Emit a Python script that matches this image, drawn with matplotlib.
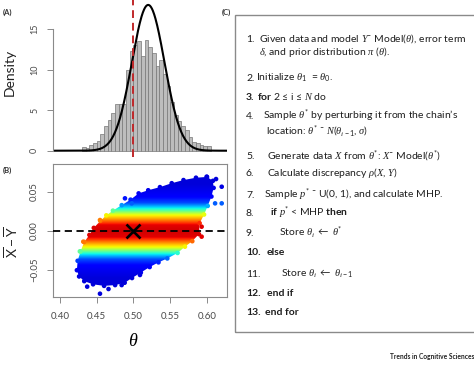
import numpy as np
import matplotlib
matplotlib.use("Agg")
import matplotlib.pyplot as plt
from matplotlib.patches import Rectangle

plt.rcParams['font.family'] = ['Lato', 'DejaVu Sans']
plt.rcParams['mathtext.fontset'] = 'custom'
plt.rcParams['mathtext.rm'] = 'Lato'
plt.rcParams['mathtext.sf'] = 'Lato'
plt.rcParams['mathtext.it'] = 'Liberation Serif:italic'
plt.rcParams['mathtext.bf'] = 'Lato:bold'
plt.rcParams['mathtext.fallback'] = 'stix'

W, H = 474, 366

# ---- panel A: posterior histogram (density per bin of width 0.005, from 0.430)
hist_start = 0.430
hist_width = 0.005
hist_density = [0.5, 0.33, 0.66, 0.9, 1.2, 2.0, 3.0, 3.8, 4.6, 5.7, 5.8, 5.8,
                9.9, 12.3, 13.0, 13.5, 11.7, 13.7, 12.8, 12.0, 10.4, 11.2, 9.5,
                8.0, 6.0, 4.4, 3.6, 3.0, 2.5, 1.7, 1.1, 0.9, 0.7, 0.6, 0.6]
curve_mean = 0.52
curve_sd = 0.0222
true_theta = 0.50

# ---- panel B: outline of the simulated cloud (theta, xbar - ybar)
cloud_theta = [0.423, 0.424, 0.428, 0.433, 0.440, 0.446, 0.455, 0.463, 0.472,
               0.484, 0.496, 0.507, 0.520, 0.536, 0.552, 0.568, 0.585, 0.600,
               0.608, 0.609, 0.606, 0.601, 0.596, 0.590, 0.589, 0.580, 0.570,
               0.560, 0.546, 0.534, 0.522, 0.510, 0.498, 0.488, 0.475, 0.460,
               0.445, 0.433, 0.426]
cloud_diff = [-0.050, -0.038, -0.026, -0.014, -0.005, 0.004, 0.013, 0.020, 0.026,
              0.033, 0.040, 0.048, 0.052, 0.056, 0.061, 0.065, 0.068, 0.069,
              0.064, 0.055, 0.044, 0.032, 0.021, 0.010, -0.004, -0.013, -0.020,
              -0.028, -0.035, -0.040, -0.046, -0.053, -0.060, -0.066, -0.069, -0.070,
              -0.068, -0.064, -0.058]
# loose points outside the main body
loose_theta = [0.4544, 0.427, 0.4317, 0.4544, 0.4884, 0.4975, 0.620, 0.611, 0.620,
               0.6123, 0.5995, 0.5927, 0.5927, 0.5088, 0.4839, 0.437, 0.466]
loose_diff = [-0.080, -0.026, -0.0136, 0.014, 0.0417, 0.0353, 0.0353, 0.0353, 0.0565,
              0.0663, 0.0693, 0.0055, -0.0072, -0.0561, -0.069, -0.071, -0.074]

x_ticks = [0.40, 0.45, 0.50, 0.55, 0.60]
x_labels = ["0.40", "0.45", "0.50", "0.55", "0.60"]
yB_ticks = [-0.05, 0.0, 0.05]
yB_labels = ["\u22120.05", "0.00", "0.05"]
yA_ticks = [0, 5, 10, 15]

# ---- panel C: algorithm text (number, content, x of content, y centre, bold)
T = "\u02dc"
algo = [
    ("1.", r"Given data and model $Y$" + T + r" Model($\theta$), error term", 259, 39, False),
    ("", r"$\delta$, and prior distribution $\pi$ ($\theta$).", 259, 52, False),
    ("2.", r"Initialize $\theta_1$  = $\theta_0$.", 256, 78, False),
    ("3.", "$\\mathbf{for}$ 2 \u2264 i \u2264 $N$ do", 257, 97, False),
    ("4.", "Sample $\\theta^{*}$ by perturbing it from the chain\u2019s", 263, 116, False),
    ("", r"location: $\theta^{*}$ " + T + r" $N$($\theta_{i-1}$, $\sigma$)", 266, 131, False),
    ("5.", r"Generate data $X$ from $\theta^{*}$: $X$" + T + r" Model($\theta^{*}$)", 267, 156, False),
    ("6.", r"Calculate discrepancy $\rho$($X$, $Y$)", 267, 173, False),
    ("7.", r"Sample $p^{*}$ " + T + " U(0, 1), and calculate MHP.", 264, 195, False),
    ("8.", r"$\mathbf{if}$ $p^{*}$ < MHP $\mathbf{then}$", 270, 213, False),
    ("9.", r"Store $\theta_{i}$ $\leftarrow$ $\theta^{*}$", 279, 233, False),
    ("10.", "else", 267, 252, True),
    ("11.", r"Store $\theta_{i}$ $\leftarrow$ $\theta_{i-1}$", 281, 274, False),
    ("12.", "end if", 267, 293, True),
    ("13.", "end for", 265, 312, True),
]

xlim = (0.3905, 0.6272)
grey = '#8a8a8a'
lab = '#4a4a4a'


def diff_colour(d):
    v = np.interp(np.abs(d), [0, 0.008, 0.012, 0.017, 0.021, 0.025, 0.028, 0.031, 0.036, 0.045, 0.06],
                  [0.93, 0.91, 0.82, 0.71, 0.63, 0.50, 0.40, 0.32, 0.20, 0.11, 0.08])
    return v


fig = plt.figure(figsize=(W / 100, H / 100), dpi=100)

# panel A
axA = fig.add_axes([53 / W, 1 - 157 / H, 174 / W, 157 / H])
edges = hist_start + hist_width * np.arange(len(hist_density) + 1)
axA.bar(edges[:-1], hist_density, width=hist_width, align='edge',
        color='#bdbdbd', edgecolor='#777777', linewidth=0.5)
xs = np.linspace(xlim[0], xlim[1], 400)
axA.plot(xs, np.exp(-0.5 * ((xs - curve_mean) / curve_sd) ** 2) / (curve_sd * np.sqrt(2 * np.pi)),
         color='black', lw=1.5)
axA.axvline(true_theta, color='#c0282a', ls=(0, (4, 2.5)), lw=1.4)
axA.set_xlim(*xlim)
axA.set_ylim(-0.776, 18.575)
for s in ['top', 'right', 'bottom']:
    axA.spines[s].set_visible(False)
axA.spines['left'].set_bounds(0, 15)
axA.spines['left'].set_color(grey)
axA.spines['left'].set_linewidth(0.8)
axA.set_xticks([])
axA.set_yticks(yA_ticks)
axA.set_yticklabels([str(t) for t in yA_ticks], rotation=90, va='center')
axA.tick_params(axis='y', length=4, width=0.7, color=grey, pad=6, labelsize=6.5, labelcolor=lab)
axA.patch.set_alpha(0)

# panel B
axB = fig.add_axes([53 / W, 1 - 297 / H, 174 / W, 133 / H])
axB.set_xlim(*xlim)
axB.set_ylim(-0.0842, 0.0855)
body = axB.fill(cloud_theta, cloud_diff, facecolor='none', edgecolor='none')[0]
ygrid = np.linspace(-0.0842, 0.0855, 500)
img = axB.imshow(diff_colour(ygrid)[:, None], cmap='jet', vmin=0, vmax=1, aspect='auto',
                 origin='lower', extent=(xlim[0], xlim[1], -0.0842, 0.0855), interpolation='bilinear')
img.set_clip_path(body)
pts_t = np.concatenate([cloud_theta, loose_theta])
pts_d = np.concatenate([cloud_diff, loose_diff])
axB.scatter(pts_t, pts_d, c=diff_colour(pts_d), cmap='jet', vmin=0, vmax=1, s=11, lw=0, zorder=3)
axB.axhline(0, color='black', ls=(0, (4, 2.5)), lw=1.3, zorder=4)
axB.plot([true_theta], [0], marker='x', ms=9.5, mew=1.9, color='black', zorder=5)
for s in axB.spines.values():
    s.set_color(grey)
    s.set_linewidth(0.8)
axB.set_xticks(x_ticks)
axB.set_xticklabels(x_labels)
axB.set_yticks(yB_ticks)
axB.set_yticklabels(yB_labels, rotation=90, va='center')
axB.tick_params(axis='x', length=4, width=0.7, color=grey, pad=7, labelsize=7, labelcolor=lab)
axB.tick_params(axis='y', length=4, width=0.7, color=grey, pad=6, labelsize=7, labelcolor=lab)

# labels
fig.text(10 / W, 1 - 72 / H, "Density", rotation=90, ha='center', va='center', fontsize=10, color='#222222')
fig.text(12 / W, 1 - 242 / H, r"$\overline{\mathsf{X}}-\overline{\mathsf{Y}}$", rotation=90,
         ha='center', va='center', fontsize=10, color='#222222')
fig.text(133 / W, 1 - 340 / H, r"$\theta$", ha='center', va='center', fontsize=13)
fig.text(3 / W, 1 - 12 / H, "(A)", fontsize=5.5, fontweight='bold', va='center', color='#333333')
fig.text(3 / W, 1 - 170 / H, "(B)", fontsize=5.5, fontweight='bold', va='center', color='#333333')
fig.text(222 / W, 1 - 12 / H, "(C)", fontsize=5.5, fontweight='bold', va='center', color='#333333')

# panel C
fig.add_artist(Rectangle((235 / W, 1 - 332 / H), 250 / W, 317 / H, transform=fig.transFigure,
                         fill=False, edgecolor=grey, lw=1.0, clip_on=False))
for num, txt, x, y, bold in algo:
    wt = 'bold' if bold else 'normal'
    if num:
        fig.text(246 / W, 1 - (y + 3) / H, num, fontsize=7.5, va='baseline',
                 fontweight='bold' if (bold or num == "3.") else 'normal', color='#1e1e1e')
    fig.text(x / W, 1 - (y + 3) / H, txt, fontsize=7.5, va='baseline', fontweight=wt, color='#1e1e1e')

fig.text(474 / W, 1 - 359 / H, "Trends in Cognitive Sciences", ha='right', va='baseline',
         fontsize=4.8, fontweight='bold', color='#222222')

fig.savefig("out.png", dpi=100)
